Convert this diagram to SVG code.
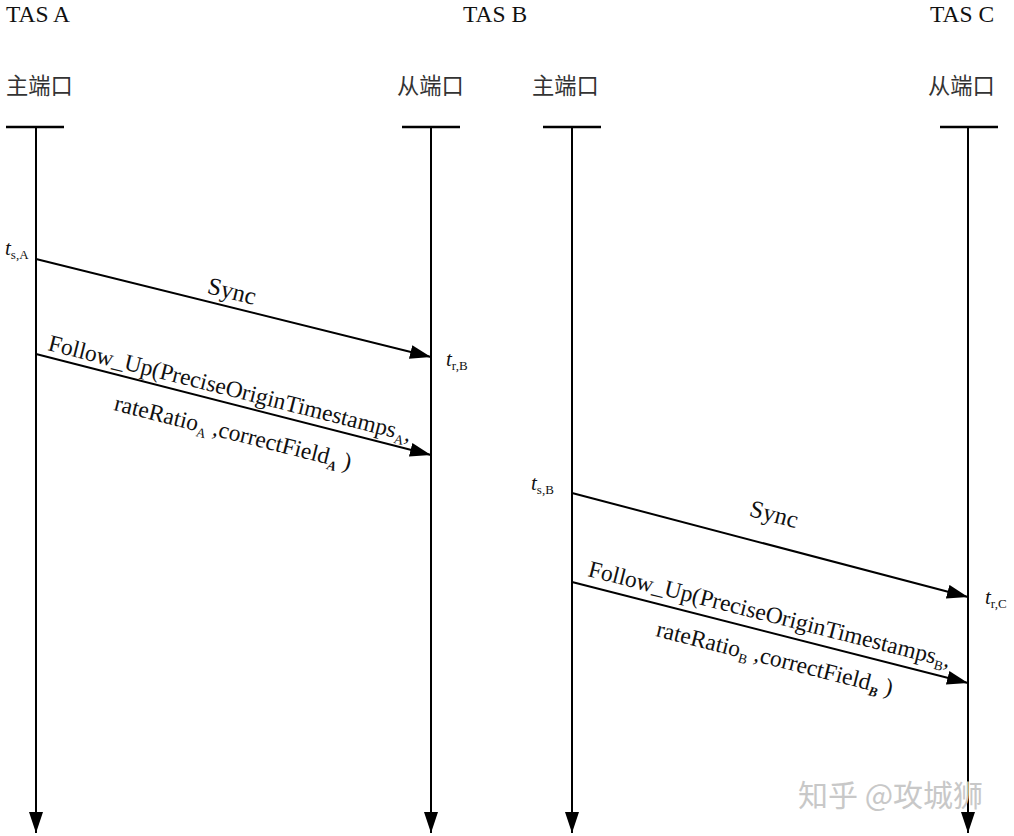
<svg xmlns="http://www.w3.org/2000/svg" width="1014" height="836" viewBox="0 0 1014 836">
<style>
.hdr{font-family:"Liberation Serif","Times New Roman",serif;font-size:23.5px;fill:#111}
.cn{font-family:"Noto Sans CJK SC","Noto Sans CJK JP",sans-serif;font-size:22.3px;fill:#333}
.lbl{font-family:"Liberation Serif","Times New Roman",serif;font-size:23.5px;fill:#111}
.sync{font-size:24.5px}
.sub{font-size:13.5px}
.ti{font-family:"Liberation Serif","Times New Roman",serif;font-size:21px;font-style:italic;fill:#111}
.ts{font-family:"Liberation Serif","Times New Roman",serif;font-size:13px;font-style:normal;fill:#111}
.life{stroke:#000;stroke-width:2;fill:none}
.bar{stroke:#000;stroke-width:2.5}
.msg{stroke:#000;stroke-width:2;fill:none;marker-end:url(#ah)}
.wm{font-family:"Noto Sans CJK SC",sans-serif;font-size:30px;fill:#c8c8c8}
</style>
<defs>
<marker id="ah" markerUnits="userSpaceOnUse" markerWidth="22" markerHeight="16" refX="21" refY="7" orient="auto">
<path d="M0,0 L21,7 L0,14 z" fill="#000"/>
</marker>
</defs>
<g id="tasA"><text class="hdr" x="6" y="22">TAS A</text></g>
<g id="tasB"><text class="hdr" x="463" y="22">TAS B</text></g>
<g id="tasC"><text class="hdr" x="930" y="22">TAS C</text></g>
<g id="portA"><text class="cn" x="6" y="94">主端口</text><line class="bar" x1="6" y1="127" x2="64" y2="127"/><line class="life" x1="36" y1="127" x2="36" y2="833" marker-end="url(#ah)"/></g>
<g id="portB1"><text class="cn" x="397" y="94">从端口</text><line class="bar" x1="402" y1="127" x2="460" y2="127"/><line class="life" x1="431" y1="127" x2="431" y2="833" marker-end="url(#ah)"/></g>
<g id="portB2"><text class="cn" x="532" y="94">主端口</text><line class="bar" x1="543" y1="127" x2="601" y2="127"/><line class="life" x1="572" y1="127" x2="572" y2="833" marker-end="url(#ah)"/></g>
<g id="portC"><text class="cn" x="928" y="94">从端口</text><line class="bar" x1="940" y1="127" x2="998" y2="127"/><line class="life" x1="968" y1="127" x2="968" y2="833" marker-end="url(#ah)"/></g>
<g id="timestamps">
<text class="ti" x="5" y="255">t<tspan class="ts" dy="4">s,A</tspan></text>
<text class="ti" x="446" y="366">t<tspan class="ts" dy="4">r,B</tspan></text>
<text class="ti" x="531" y="490">t<tspan class="ts" dy="4">s,B</tspan></text>
<text class="ti" x="985" y="604">t<tspan class="ts" dy="4">r,C</tspan></text>
</g>
<g id="connectors">
<line class="msg" x1="36" y1="259" x2="431" y2="357"/>
<line class="msg" x1="36" y1="354" x2="431" y2="455"/>
<line class="msg" x1="572" y1="493" x2="968" y2="597"/>
<line class="msg" x1="572" y1="582" x2="968" y2="683"/>
</g>
<g id="labelsA">
<text class="lbl sync" transform="translate(230,299) rotate(14)" text-anchor="middle">Sync</text>
<text class="lbl" transform="translate(47,350) rotate(14.2)">Follow_Up(PreciseOriginTimestamps<tspan class="sub" dy="5">A</tspan><tspan dy="-5">,</tspan></text>
<text class="lbl" transform="translate(113,410) rotate(14.2)">rateRatio<tspan class="sub" dy="5">A</tspan><tspan dy="-5"> ,correctField</tspan><tspan class="sub" dy="5" font-style="italic" font-weight="bold">A</tspan><tspan dy="-5"> )</tspan></text>
</g>
<g id="labelsB">
<text class="lbl sync" transform="translate(772,522) rotate(14.7)" text-anchor="middle">Sync</text>
<text class="lbl" transform="translate(587,576) rotate(14.2)">Follow_Up(PreciseOriginTimestamps<tspan class="sub" dy="5">B</tspan><tspan dy="-5">,</tspan></text>
<text class="lbl" transform="translate(655,636) rotate(14.2)">rateRatio<tspan class="sub" dy="5">B</tspan><tspan dy="-5"> ,correctField</tspan><tspan class="sub" dy="5" font-style="italic" font-weight="bold">B</tspan><tspan dy="-5"> )</tspan></text>
</g>
<text class="wm" x="798" y="806">知乎 @攻城狮</text>
</svg>
